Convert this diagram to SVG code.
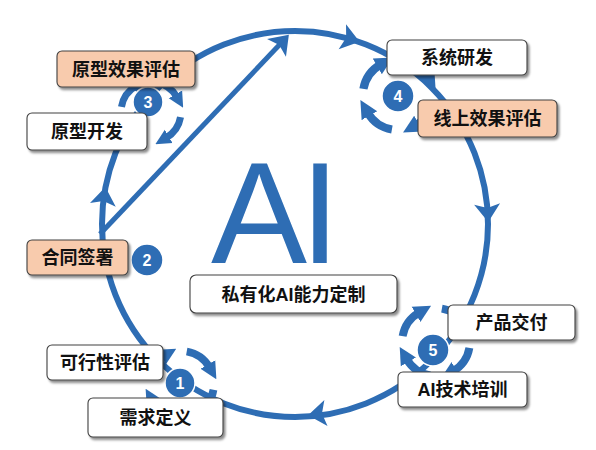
<svg xmlns="http://www.w3.org/2000/svg" xmlns:xlink="http://www.w3.org/1999/xlink" width="596" height="450" viewBox="0 0 596 450">
<style>
.box{stroke:#404040;stroke-width:1.1;filter:url(#sh)}
.w{fill:#ffffff}
.p{fill:#F8CBAD}
.t{font-family:"Liberation Sans","Noto Sans CJK SC",sans-serif;font-weight:bold;font-size:18px;fill:#111;text-anchor:middle}
.bd{fill:#2E6DB4;stroke:#ffffff;stroke-width:1.5}
.num{font-family:"Liberation Sans",sans-serif;font-weight:bold;font-size:16px;fill:#fff;text-anchor:middle}
.ln{fill:none;stroke:#2E6DB4;stroke-width:6}
</style>
<defs>
<filter id="sh" x="-10%" y="-10%" width="130%" height="140%">
<feDropShadow dx="2" dy="2.5" stdDeviation="1.3" flood-color="#000" flood-opacity="0.45"/>
</filter>
<marker id="rm" viewBox="0 0 10 10" refX="2" refY="5" markerWidth="2.2" markerHeight="2.4" orient="auto" markerUnits="strokeWidth">
<path d="M0,0 L10,5 L0,10 Z" fill="#2E6DB4"/>
</marker>
<path id="ah" d="M10,0 L-8,-13 L-4,0 L-8,13 Z" fill="#2E6DB4"/>
<g id="ring" fill="none" stroke="#2E6DB4" stroke-width="7">
<path d="M-29.54,-5.21 A30,30 0 0 1 -15,-25.98" marker-end="url(#rm)"/>
<path d="M5.21,-29.54 A30,30 0 0 1 25.98,-15" marker-end="url(#rm)"/>
<path d="M29.54,5.21 A30,30 0 0 1 15,25.98" marker-end="url(#rm)"/>
<path d="M-5.21,29.54 A30,30 0 0 1 -25.98,15" marker-end="url(#rm)"/>
</g>
</defs>
<rect width="596" height="450" fill="#ffffff"/>

<g id="connectors">
<circle cx="295" cy="224" r="193" class="ln"/>
<use xlink:href="#ah" transform="translate(350,39) rotate(16.5)"/>
<use xlink:href="#ah" transform="translate(487.6,212) rotate(86.4)"/>
<use xlink:href="#ah" transform="translate(318,414) rotate(173)"/>
<use xlink:href="#ah" transform="translate(104,197) rotate(278)"/>
<line x1="100" y1="234" x2="284" y2="40" stroke="#2E6DB4" stroke-width="5"/>
<use xlink:href="#ah" transform="translate(282,42) rotate(-46.6)"/>
</g>

<g id="rings">
<use xlink:href="#ring" transform="translate(181,384) scale(1.1)"/>
<use xlink:href="#ring" transform="translate(151,112) scale(1.0)"/>
<use xlink:href="#ring" transform="translate(398,95) scale(1.17)"/>
<use xlink:href="#ring" transform="translate(436,342) scale(1.13)"/>
</g>

<text x="211" y="263" font-family="Liberation Sans, Arial, sans-serif" font-size="144" letter-spacing="-7" fill="#2E6DB4">AI</text>

<g id="badge1"><circle cx="180" cy="383" r="15" class="bd"/><text x="180" y="389" class="num">1</text></g>
<g id="badge2"><circle cx="147" cy="260" r="16" class="bd"/><text x="147" y="266" class="num">2</text></g>
<g id="badge3"><circle cx="148" cy="102" r="15" class="bd"/><text x="148" y="108" class="num">3</text></g>
<g id="badge4"><circle cx="398" cy="96" r="16" class="bd"/><text x="398" y="102" class="num">4</text></g>
<g id="badge5"><circle cx="433" cy="350" r="16" class="bd"/><text x="433" y="356" class="num">5</text></g>

<g id="n_yxpg"><rect x="57" y="51" width="138" height="36" rx="5" class="box p"/><text x="126" y="75.5" class="t">原型效果评估</text></g>
<g id="n_yxkf"><rect x="27" y="113" width="120" height="37" rx="5" class="box w"/><text x="87" y="138" class="t">原型开发</text></g>
<g id="n_xtyf"><rect x="387" y="40" width="140" height="35" rx="5" class="box w"/><text x="457" y="64" class="t">系统研发</text></g>
<g id="n_xsxg"><rect x="418" y="100" width="139" height="37" rx="5" class="box p"/><text x="487.5" y="125" class="t">线上效果评估</text></g>
<g id="n_htqs"><rect x="27" y="240" width="101" height="35" rx="5" class="box p"/><text x="77.5" y="264" class="t">合同签署</text></g>
<g id="n_center"><rect x="190" y="275" width="207" height="38" rx="6" class="box w" stroke="#666"/><text x="293.5" y="300.5" class="t">私有化AI能力定制</text></g>
<g id="n_cpjf"><rect x="448" y="305" width="127" height="35" rx="5" class="box w"/><text x="511.5" y="329" class="t">产品交付</text></g>
<g id="n_kxx"><rect x="47" y="345" width="116" height="35" rx="5" class="box w"/><text x="105" y="369" class="t">可行性评估</text></g>
<g id="n_aipx"><rect x="398" y="372" width="129" height="35" rx="5" class="box w"/><text x="462.5" y="396" class="t">AI技术培训</text></g>
<g id="n_xqdy"><rect x="88" y="398" width="135" height="39" rx="5" class="box w"/><text x="155.5" y="424" class="t">需求定义</text></g>
</svg>
